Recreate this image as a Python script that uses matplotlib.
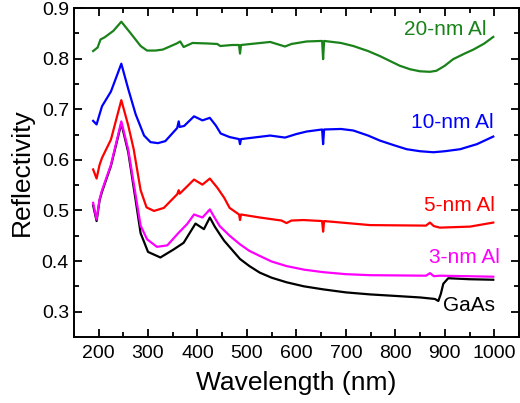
import matplotlib
matplotlib.use("Agg")
import matplotlib.pyplot as plt
from matplotlib.ticker import MultipleLocator

plt.rcParams["font.family"] = ["Liberation Sans", "DejaVu Sans"]

# wavelength (nm) / reflectivity
wl_20 = [189, 198, 204, 212, 230, 246, 265, 285, 298, 315, 330, 358, 365, 372, 390, 420, 440,
         446, 470, 484, 486, 488, 547, 577, 590, 621, 652, 654, 656, 690, 715, 745, 769, 790,
         809, 830, 850, 870, 883, 900, 917, 940, 958, 980, 998]
r_20 = [0.815, 0.822, 0.838, 0.842, 0.855, 0.873, 0.850, 0.825, 0.816, 0.816, 0.818, 0.830, 0.834,
        0.823, 0.831, 0.830, 0.829, 0.825, 0.827, 0.827, 0.810, 0.827, 0.833, 0.824, 0.829, 0.834,
        0.835, 0.799, 0.835, 0.831, 0.825, 0.815, 0.805, 0.795, 0.786, 0.779, 0.775, 0.774, 0.776,
        0.786, 0.799, 0.810, 0.818, 0.830, 0.843]

wl_10 = [189, 196, 202, 207, 225, 246, 260, 275, 292, 305, 320, 335, 359, 362, 364, 373, 393,
         410, 425, 437, 447, 465, 484, 486, 488, 547, 577, 600, 621, 652, 654, 656, 690, 715,
         745, 769, 800, 823, 850, 877, 900, 931, 965, 998]
r_10 = [0.677, 0.670, 0.690, 0.706, 0.735, 0.790, 0.740, 0.690, 0.648, 0.635, 0.633, 0.637, 0.663,
        0.676, 0.665, 0.667, 0.686, 0.678, 0.683, 0.668, 0.652, 0.645, 0.641, 0.631, 0.641, 0.648,
        0.644, 0.651, 0.656, 0.660, 0.631, 0.660, 0.661, 0.658, 0.648, 0.638, 0.628, 0.621, 0.617,
        0.615, 0.617, 0.621, 0.631, 0.646]

wl_5 = [189, 196, 202, 207, 225, 246, 260, 271, 285, 297, 312, 332, 359, 362, 364, 393, 410,
        425, 440, 454, 465, 484, 486, 488, 526, 570, 580, 590, 614, 652, 654, 656, 749, 862,
        870, 878, 890, 951, 998]
r_5 = [0.581, 0.563, 0.590, 0.604, 0.640, 0.718, 0.668, 0.621, 0.540, 0.506, 0.499, 0.505, 0.532,
       0.540, 0.533, 0.561, 0.551, 0.563, 0.545, 0.525, 0.505, 0.492, 0.481, 0.492, 0.486, 0.480,
       0.475, 0.480, 0.481, 0.479, 0.458, 0.479, 0.471, 0.470, 0.476, 0.469, 0.466, 0.468, 0.476]

wl_3 = [189, 196, 202, 207, 225, 246, 260, 275, 285, 298, 318, 339, 362, 379, 393, 410, 425,
        435, 445, 465, 486, 505, 526, 550, 580, 615, 654, 700, 749, 862, 870, 878, 890, 998]
r_3 = [0.515, 0.482, 0.522, 0.540, 0.590, 0.676, 0.620, 0.530, 0.470, 0.443, 0.428, 0.431, 0.456,
       0.473, 0.492, 0.486, 0.502, 0.485, 0.469, 0.450, 0.433, 0.420, 0.410, 0.399, 0.390, 0.383,
       0.378, 0.374, 0.372, 0.371, 0.376, 0.370, 0.371, 0.369]

wl_gaas = [189, 196, 202, 207, 225, 246, 260, 275, 285, 300, 325, 352, 372, 396, 413, 425, 435,
           445, 454, 470, 486, 505, 526, 550, 580, 615, 654, 700, 749, 800, 850, 880, 887, 892,
           897, 907, 950, 998]
r_gaas = [0.510, 0.479, 0.520, 0.537, 0.588, 0.672, 0.615, 0.520, 0.455, 0.418, 0.407, 0.423,
          0.436, 0.474, 0.463, 0.486, 0.468, 0.453, 0.440, 0.422, 0.404, 0.390, 0.377, 0.367,
          0.358, 0.350, 0.344, 0.338, 0.334, 0.331, 0.328, 0.325, 0.321, 0.335, 0.355, 0.366,
          0.364, 0.363]

series = [
    (wl_20, r_20, "#1a821a", "20-nm Al", 985, 0.857),
    (wl_10, r_10, "#0000ff", "10-nm Al", 998, 0.674),
    (wl_5, r_5, "#ff0000", "5-nm Al", 1001, 0.509),
    (wl_gaas, r_gaas, "#000000", "GaAs", 1001, 0.313),
    (wl_3, r_3, "#ff00ff", "3-nm Al", 1011, 0.407),
]

fig = plt.figure(figsize=(5.2, 4.03), dpi=100)
ax = fig.add_axes([0.142, 0.164, 0.856, 0.816])

for x, y, c, lab, tx, ty in series:
    ax.plot(x, y, color=c, lw=1.6)
    ax.text(tx, ty, lab, color=c, fontsize=15, ha="right", va="center")

ax.set_xlim(150, 1050)
ax.set_ylim(0.25, 0.9)
ax.xaxis.set_minor_locator(MultipleLocator(50))
ax.yaxis.set_minor_locator(MultipleLocator(0.05))
ax.set_xticks(range(200, 1001, 100))
ax.set_yticks([0.3, 0.4, 0.5, 0.6, 0.7, 0.8, 0.9])
ax.tick_params(which="both", direction="in", top=True, right=True, width=1.3, labelsize=14)
ax.tick_params(which="major", length=6)
ax.tick_params(which="minor", length=3.5)
ax.tick_params(axis="x", pad=6)
for s in ax.spines.values():
    s.set_linewidth(1.4)

ax.set_xlabel("Wavelength (nm)", fontsize=19, labelpad=6)
ax.set_ylabel("Reflectivity", fontsize=19, labelpad=6)

fig.savefig("out.png", dpi=100)
